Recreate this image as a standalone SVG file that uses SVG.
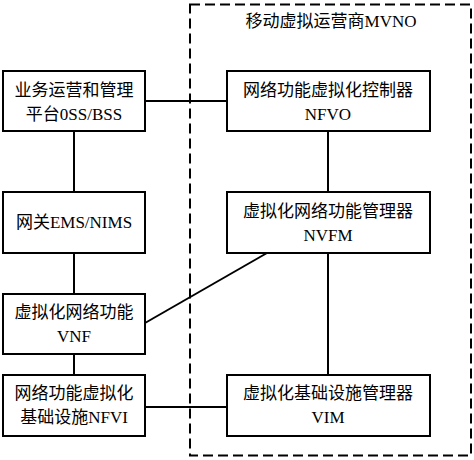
<svg xmlns="http://www.w3.org/2000/svg" width="474" height="460" viewBox="0 0 474 460">
<style>
.box{fill:#fff;stroke:#000;stroke-width:2}
.ln{stroke:#000;stroke-width:2;fill:none}
.t{font-family:"Liberation Serif","Noto Sans CJK SC",serif;font-size:17px;fill:#000;text-anchor:middle}
</style>
<rect width="474" height="460" fill="#fff"/>
<g id="mvno">
<rect x="190" y="4.5" width="281" height="451" fill="none" stroke="#000" stroke-width="2" stroke-dasharray="10,5"/>
<text class="t" x="331" y="27">移动虚拟运营商MVNO</text>
</g>
<g id="connectors">
<line class="ln" x1="145" y1="101" x2="227" y2="101"/>
<line class="ln" x1="74" y1="131" x2="74" y2="192"/>
<line class="ln" x1="74" y1="253" x2="74" y2="294"/>
<line class="ln" x1="74" y1="354" x2="74" y2="375"/>
<line class="ln" x1="145" y1="407" x2="227" y2="407"/>
<line class="ln" x1="328" y1="131" x2="328" y2="192"/>
<line class="ln" x1="328" y1="253" x2="328" y2="375"/>
<line class="ln" x1="267" y1="253" x2="145" y2="323"/>
</g>
<g id="oss">
<rect class="box" x="3" y="71" width="142" height="60"/>
<text class="t" x="74" y="96">业务运营和管理</text>
<text class="t" x="74" y="120">平台0SS/BSS</text>
</g>
<g id="ems">
<rect class="box" x="3" y="192" width="142" height="61"/>
<text class="t" x="74" y="228">网关EMS/NIMS</text>
</g>
<g id="vnf">
<rect class="box" x="3" y="294" width="142" height="60"/>
<text class="t" x="74" y="318">虚拟化网络功能</text>
<text class="t" x="74" y="342">VNF</text>
</g>
<g id="nfvi">
<rect class="box" x="3" y="375" width="142" height="61"/>
<text class="t" x="74" y="399">网络功能虚拟化</text>
<text class="t" x="74" y="423">基础设施NFVI</text>
</g>
<g id="nfvo">
<rect class="box" x="227" y="71" width="203" height="60"/>
<text class="t" x="328" y="96">网络功能虚拟化控制器</text>
<text class="t" x="328" y="120">NFVO</text>
</g>
<g id="nvfm">
<rect class="box" x="227" y="192" width="203" height="61"/>
<text class="t" x="328" y="217">虚拟化网络功能管理器</text>
<text class="t" x="328" y="241">NVFM</text>
</g>
<g id="vim">
<rect class="box" x="227" y="375" width="203" height="61"/>
<text class="t" x="328" y="399">虚拟化基础设施管理器</text>
<text class="t" x="328" y="423">VIM</text>
</g>
</svg>
